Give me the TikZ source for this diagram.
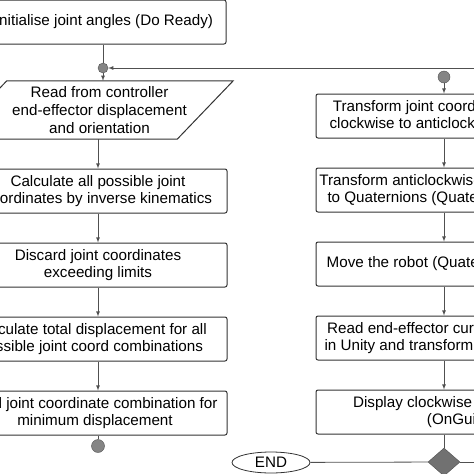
\documentclass[tikz,border=0pt]{standalone}
\usepackage{fontspec}
\setmainfont{Liberation Sans}
\usetikzlibrary{shapes,
                arrows,
                positioning}
\definecolor{edgegray}{HTML}{333333}
\definecolor{wiregray}{HTML}{505050}
\definecolor{dotgray}{HTML}{858585}
\tikzset{process/.style =
   {rectangle,
    rounded corners=2pt,
    draw=edgegray,
    line width=1pt,
    align=center,
    inner sep=0pt,
    minimum height=44pt}}
\tikzset{io-frame/.style =
   {rectangle,
    inner sep=0pt,
    minimum width=226pt,
    minimum height=58pt}}
\tikzset{io-line/.style = {draw=edgegray, line width=1pt}}
\tikzset{joint/.style =
   {circle,
    draw=wiregray,
    fill=dotgray,
    inner sep=0pt}}
\tikzset{decision/.style =
   {diamond,
    draw=wiregray,
    fill=dotgray!85!black,
    inner sep=0pt,
    minimum width=32pt,
    minimum height=28pt}}
\tikzset{terminal/.style =
   {ellipse,
    draw=edgegray,
    line width=0.8pt,
    inner sep=0pt,
    minimum width=78pt,
    minimum height=21pt}}
\tikzset{link/.style = {draw=wiregray, line width=0.8pt}}
\tikzset{arrow/.style = {draw=wiregray, line width=0.8pt, -latex}}

\begin{document}
\begin{tikzpicture}[x=1pt, y=-1pt, node distance=29pt,
                    font=\fontsize{15.2}{17.6}\selectfont]

    \useasboundingbox (0,0) rectangle (474,474);
    \fill [white] (0,0) rectangle (474,474);
    \clip (0,0) rectangle (474,474);

    % left column
    \node [process, minimum width=244pt] (init) at (104,22)
          {Initialise joint angles (Do Ready)};

    \node [joint, minimum size=10pt] (loop-in) at (103,68) {};

    \node [io-frame] (read) at (92,110) {};
    \draw [io-line] ([xshift=28pt]read.north west)
                 -- ([xshift=28pt]read.north east)
                 -- ([xshift=-28pt]read.south east)
                 -- ([xshift=-28pt]read.south west) -- cycle;
    \node [align=center] (read-text) at ([xshift=7.5pt]read.center)
          {Read from controller\\end-effector displacement\\and orientation};

    \node [process, minimum width=258pt] (calc) at (98,191)
          {Calculate all possible joint\\coordinates by inverse kinematics};

    \node [process, minimum width=258pt,
           below = of calc] (discard)
          {Discard joint coordinates\\exceeding limits};

    \node [process, minimum width=272pt,
           below = of discard,
           xshift=-7pt] (total)
          {Calculate total displacement for all\\possible joint coord combinations};

    \node [process, minimum width=264pt,
           below = of total,
           xshift=4pt] (find)
          {Find joint coordinate combination for\\minimum displacement};

    \node [joint, minimum size=13pt] (to-right) at (98,446) {};

    % right column
    \node [joint, minimum size=12pt] (resume) at (444,77) {};

    \node [process, minimum width=252pt] (clock) at (442,116)
          {Transform joint coordinates from\\clockwise to anticlockwise angles};

    \node [process, minimum width=252pt,
           below = of clock] (quat)
          {Transform anticlockwise coordinates\\to Quaternions (Quaternion.Euler)};

    \node [process, minimum width=252pt,
           below = of quat] (move)
          {Move the robot (Quaternion.Euler)};

    \node [process, minimum width=252pt,
           below = of move] (current)
          {Read end-effector current position\\in Unity and transform to clockwise};

    \node [process, minimum width=276pt,
           below = of current,
           xshift=12pt] (display)
          {Display clockwise coordinates\\(OnGui)};

    \node [decision] (again) at (444,462) {};

    \node [terminal] (end) at (271,462.5) {END};

    % connectors
    \draw [link] (loop-in |- init.south) -- (loop-in);
    \draw [arrow] (loop-in) -- (loop-in |- read.north);
    \draw [arrow] (calc.north |- read.south) -- (calc);
    \draw [arrow] (calc) -- (discard);
    \draw [arrow] (discard) -- (discard.south |- total.north);
    \draw [arrow] (discard.south |- total.south) -- (discard.south |- find.north);
    \draw [link] (to-right |- find.south) -- (to-right);

    \draw [arrow] (resume) -- (resume |- clock.north);
    \draw [arrow] (resume |- clock.south) -- (resume |- quat.north);
    \draw [arrow] (resume |- quat.south) -- (resume |- move.north);
    \draw [arrow] (resume |- move.south) -- (resume |- current.north);
    \draw [arrow] (resume |- current.south) -- (resume |- display.north);
    \draw [link] (resume |- display.south) -- (again);
    \draw [link] (again) -- (end);
    \draw [arrow] (again.east) -- ++(40,0) |- (loop-in);

\end{tikzpicture}
\end{document}
